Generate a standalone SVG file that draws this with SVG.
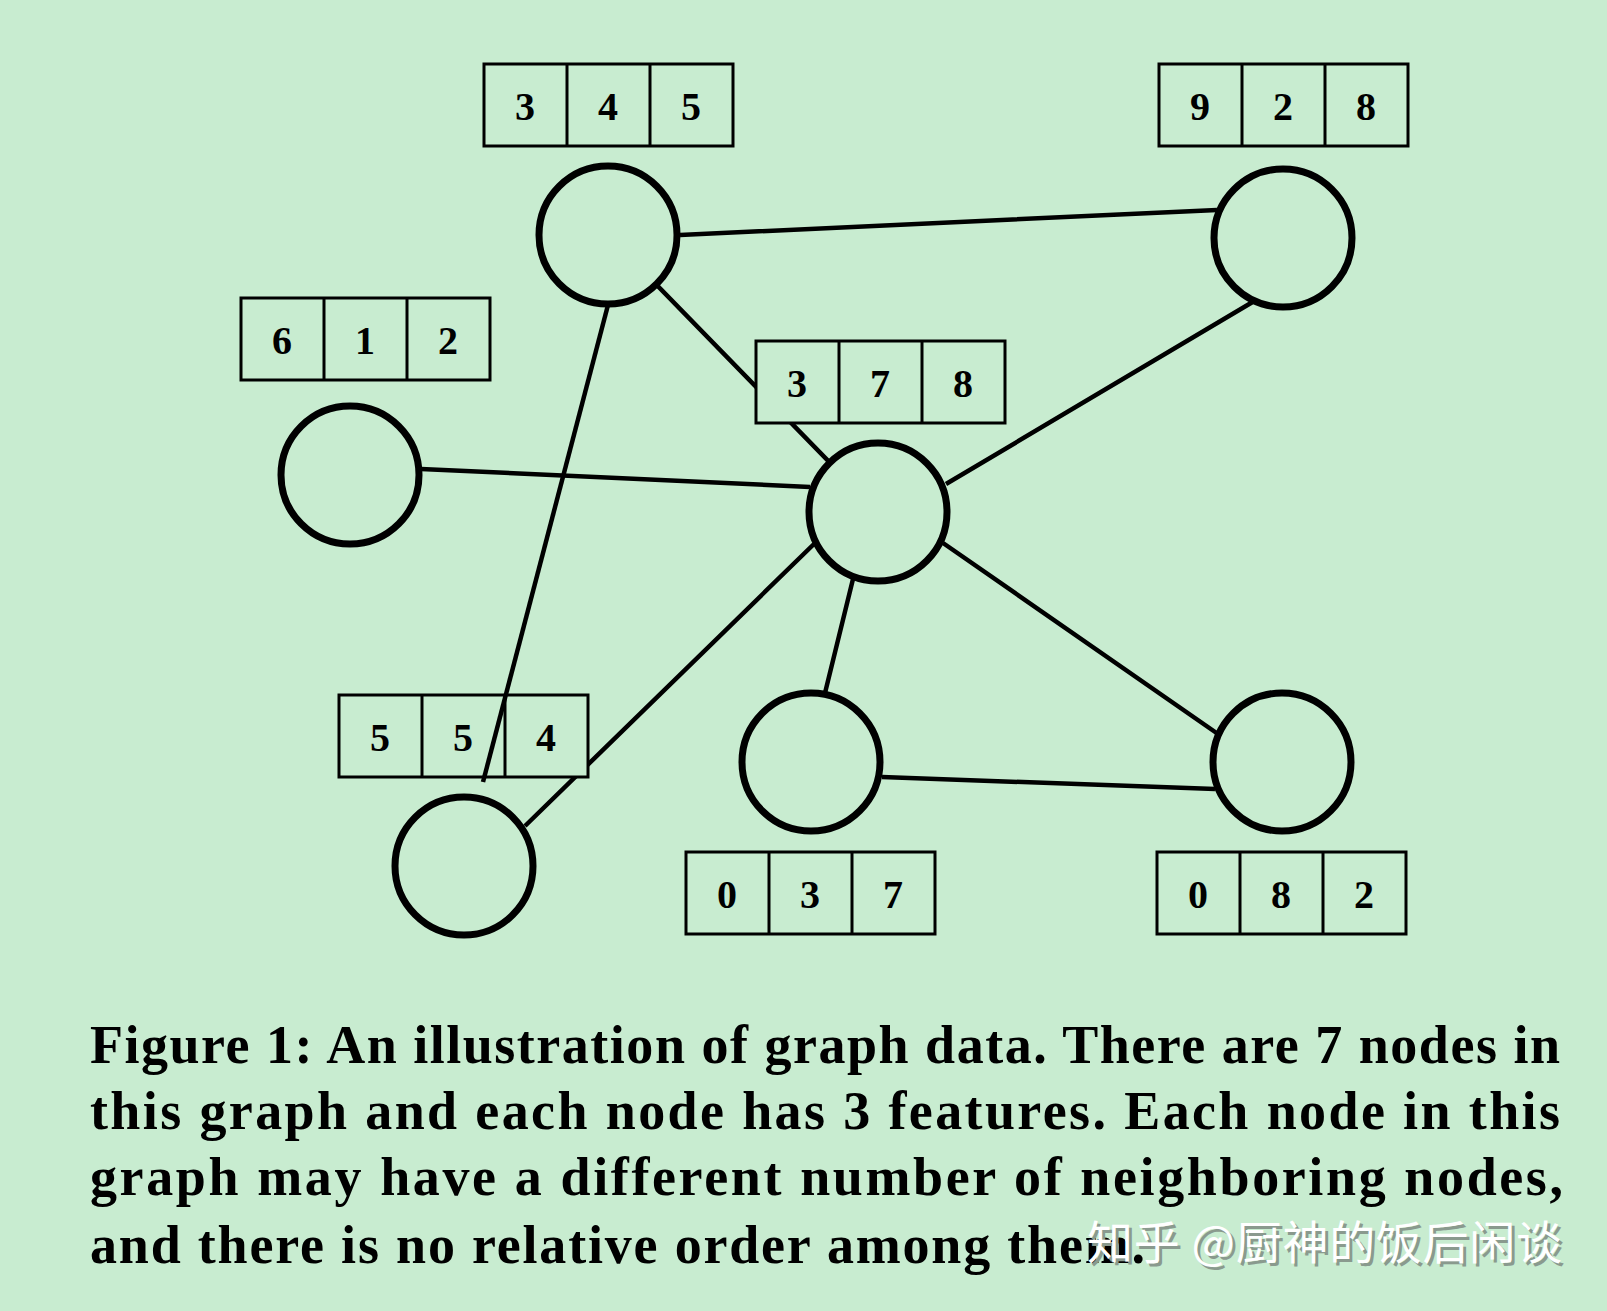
<svg xmlns="http://www.w3.org/2000/svg" width="1607" height="1311" viewBox="0 0 1607 1311">
<style>
.n{fill:#c8ecd0;stroke:#000;stroke-width:7}
.b{fill:#c8ecd0;stroke:#000;stroke-width:3}
.t{font-family:"Liberation Serif",serif;font-weight:bold;font-size:40px;text-anchor:middle}
.e{stroke:#000;stroke-width:4.5;fill:none}
.d{stroke:#000;stroke-width:3;fill:none}
.c{font-family:"Liberation Serif",serif;font-weight:bold;font-size:54px}
.w{font-family:"Noto Sans CJK SC",sans-serif;font-size:46px}
</style>
<rect width="1607" height="1311" fill="#c8ecd0"/>
<g id="edges-under">
<path class="e" d="M680 235L1217 210M608 235L878 512M421 469L810 487M946 484L1256 300M853 579L825 693M943 543L1218 734M882 777L1215 789M815 543L525 826"/>
</g>
<g id="n1"><circle class="n" cx="608" cy="235" r="69"/><rect class="b" x="484" y="64" width="249" height="82"/><path class="d" d="M567 64v82M650 64v82"/><text class="t" x="525" y="120">3</text><text class="t" x="608" y="120">4</text><text class="t" x="691" y="120">5</text></g>
<g id="n2"><circle class="n" cx="1283" cy="238" r="69"/><rect class="b" x="1159" y="64" width="249" height="82"/><path class="d" d="M1242 64v82M1325 64v82"/><text class="t" x="1200" y="120">9</text><text class="t" x="1283" y="120">2</text><text class="t" x="1366" y="120">8</text></g>
<g id="n3"><circle class="n" cx="350" cy="475" r="69"/><rect class="b" x="241" y="298" width="249" height="82"/><path class="d" d="M324 298v82M407 298v82"/><text class="t" x="282" y="354">6</text><text class="t" x="365" y="354">1</text><text class="t" x="448" y="354">2</text></g>
<g id="n4"><circle class="n" cx="878" cy="512" r="69"/><rect class="b" x="756" y="341" width="249" height="82"/><path class="d" d="M839 341v82M922 341v82"/><text class="t" x="797" y="397">3</text><text class="t" x="880" y="397">7</text><text class="t" x="963" y="397">8</text></g>
<g id="n5"><circle class="n" cx="811" cy="762" r="69"/><rect class="b" x="686" y="852" width="249" height="82"/><path class="d" d="M769 852v82M852 852v82"/><text class="t" x="727" y="908">0</text><text class="t" x="810" y="908">3</text><text class="t" x="893" y="908">7</text></g>
<g id="n6"><circle class="n" cx="1282" cy="762" r="69"/><rect class="b" x="1157" y="852" width="249" height="82"/><path class="d" d="M1240 852v82M1323 852v82"/><text class="t" x="1198" y="908">0</text><text class="t" x="1281" y="908">8</text><text class="t" x="1364" y="908">2</text></g>
<g id="n7"><circle class="n" cx="464" cy="866" r="69"/><rect class="b" x="339" y="695" width="249" height="82"/><path class="d" d="M422 695v82M505 695v82"/><text class="t" x="380" y="751">5</text><text class="t" x="463" y="751">5</text><text class="t" x="546" y="751">4</text></g>
<g id="edges-over"><path class="e" d="M608 305L483 782"/></g>
<g id="caption">
<text class="c" x="90" y="1063" textLength="1470" lengthAdjust="spacing">Figure 1: An illustration of graph data. There are 7 nodes in</text>
<text class="c" x="90" y="1129" textLength="1470" lengthAdjust="spacing">this graph and each node has 3 features. Each node in this</text>
<text class="c" x="90" y="1195" textLength="1473" lengthAdjust="spacing">graph may have a different number of neighboring nodes,</text>
<text class="c" x="90" y="1263" textLength="1055" lengthAdjust="spacing">and there is no relative order among them.</text>
<text class="w" x="1090" y="1262" fill="#8a9a8e" textLength="475">知乎 @厨神的饭后闲谈</text>
<text class="w" x="1087" y="1259" fill="#ffffff" textLength="475">知乎 @厨神的饭后闲谈</text>
</g>
</svg>
